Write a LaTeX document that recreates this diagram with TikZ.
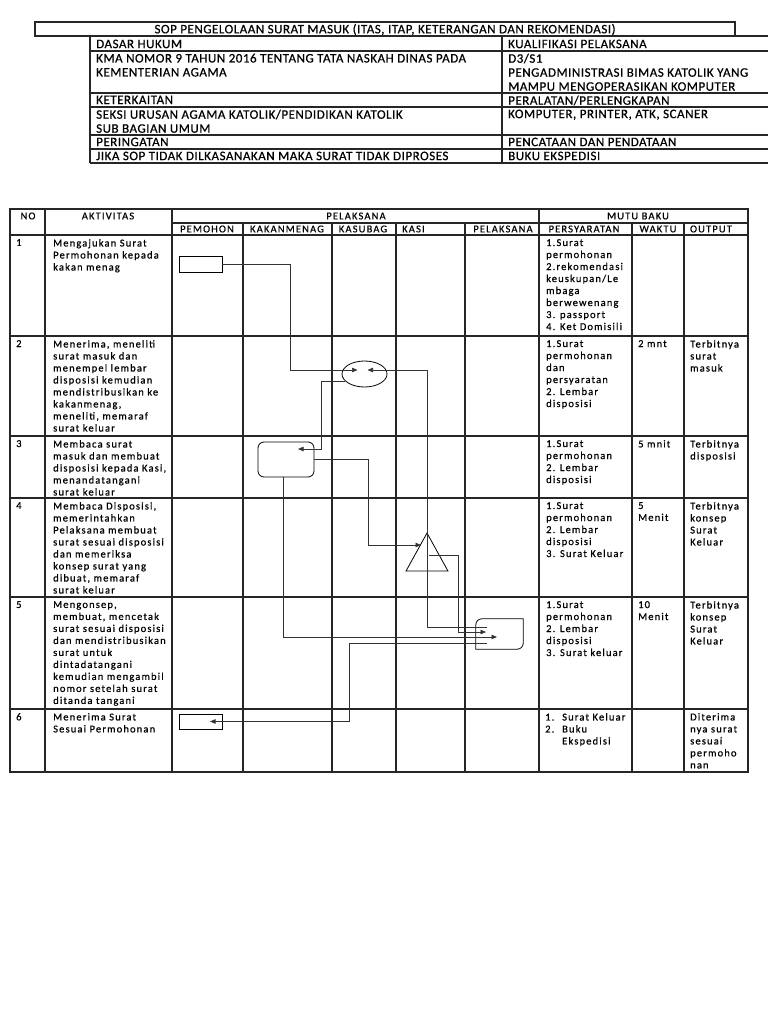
\documentclass[tikz,border=0pt]{standalone}
\usepackage{fontspec}
\setmainfont{Carlito}[LetterSpace=4,FakeBold=0.6]
\newfontfamily\cellfont[LetterSpace=11,FakeBold=0.6]{Carlito}
\usetikzlibrary{positioning,arrows.meta,calc,shapes.geometric}

\begin{document}
\begin{tikzpicture}[
  x=1pt, y=-1pt,
  >={Triangle[length=5.5pt,width=4.5pt]},
  tline/.style   = {line width=1.2pt, black!85},
  flow/.style    = {->, line width=0.7pt, black!80},
  doc/.style     = {draw, line width=0.8pt, inner sep=0pt, minimum width=43pt,
                    minimum height=15pt},
  toptxt/.style  = {font=\fontsize{13}{14}\selectfont, anchor=north west,
                    inner sep=0pt, align=left},
  cell/.style    = {font=\cellfont\fontsize{10.5}{12}\selectfont, anchor=north west,
                    inner sep=0pt, align=left},
  colh/.style    = {font=\cellfont\fontsize{10.5}{12}\selectfont, inner sep=0pt}
]
\useasboundingbox (0,0) rectangle (768,1024);

% ========================= header block ===================================
\draw[tline] (35,22) rectangle (735,36);
\node[font=\fontsize{13}{14}\selectfont, inner sep=0pt] (title) at (385,29.5)
  {SOP PENGELOLAAN SURAT MASUK (ITAS, ITAP, KETERANGAN DAN REKOMENDASI)};
\foreach \y in {36,51,93,107,135,149,163}
  \draw[tline] (90,\y) -- (768,\y);
\draw[tline] (90,36) -- (90,163);
\draw[tline] (502,36) -- (502,163);

\node[toptxt] (dasar)  at (96,39.5)  {DASAR HUKUM};
\node[toptxt] (kma)    at (96,53.5)  {KMA NOMOR 9 TAHUN 2016 TENTANG TATA NASKAH DINAS PADA\\
                                      KEMENTERIAN AGAMA};
\node[toptxt] (kait)   at (96,95.5)  {KETERKAITAN};
\node[toptxt] (seksi)  at (96,109.5) {SEKSI URUSAN AGAMA KATOLIK/PENDIDIKAN KATOLIK\\
                                      SUB BAGIAN UMUM};
\node[toptxt] (ingat)  at (96,137.5) {PERINGATAN};
\node[toptxt] (jika)   at (96,151.5) {JIKA SOP TIDAK DILKASANAKAN MAKA SURAT TIDAK DIPROSES};
\node[toptxt] (kualif) at (508,39.5)  {KUALIFIKASI PELAKSANA};
\node[toptxt] (d3)     at (508,53.5)  {D3/S1\\PENGADMINISTRASI BIMAS KATOLIK YANG\\
                                       MAMPU MENGOPERASIKAN KOMPUTER};
\node[toptxt] (alat)   at (508,95.5)  {PERALATAN/PERLENGKAPAN};
\node[toptxt] (komp)   at (508,109.5) {KOMPUTER, PRINTER, ATK, SCANER};
\node[toptxt] (catat)  at (508,137.5) {PENCATAAN DAN PENDATAAN};
\node[toptxt] (buku)   at (508,151.5) {BUKU EKSPEDISI};

% ========================= main table grid ================================
\draw[tline] (10,209) rectangle (748,772);
\draw[tline] (172,223) -- (748,223);
\foreach \y in {235,336,436,498,597,709}
  \draw[tline] (10,\y) -- (748,\y);
\foreach \x in {45,172,539}
  \draw[tline] (\x,209) -- (\x,772);
\foreach \x in {243,332,396,465,632,684}
  \draw[tline] (\x,223) -- (\x,772);

\node[colh] (hno)   at (28,216)  {NO};
\node[colh] (hakt)  at (108,216) {AKTIVITAS};
\node[colh] (hpel)  at (356,216) {PELAKSANA};
\node[colh] (hmutu) at (638,216) {MUTU BAKU};
\node[colh] (hpem)  at (207,229) {PEMOHON};
\node[colh] (hkak)  at (287,229) {KAKANMENAG};
\node[colh] (hkas)  at (363,229) {KASUBAG};
\node[colh, anchor=west] (hkasi) at (402,229) {KASI};
\node[colh] (hplk)  at (503,229) {PELAKSANA};
\node[colh] (hprs)  at (584,229) {PERSYARATAN};
\node[colh] (hwkt)  at (658,229) {WAKTU};
\node[colh] (hout)  at (711,229) {OUTPUT};

% ========================= rows ===========================================
\node[cell] (no1) at (16,239) {1};
\node[cell] (no2) at (16,340) {2};
\node[cell] (no3) at (16,440) {3};
\node[cell] (no4) at (16,502) {4};
\node[cell] (no5) at (16,601) {5};
\node[cell] (no6) at (16,713) {6};

\node[cell] (akt1) at (53,239) {Mengajukan Surat\\Permohonan kepada\\kakan menag};
\node[cell] (akt2) at (53,340) {Menerima, meneliti\\surat masuk dan\\menempel lembar\\
  disposisi kemudian\\mendistribusikan ke\\kakanmenag,\\meneliti, memaraf\\surat keluar};
\node[cell] (akt3) at (53,440) {Membaca surat\\masuk dan membuat\\disposisi kepada Kasi,\\
  menandatangani\\surat keluar};
\node[cell] (akt4) at (53,502) {Membaca Disposisi,\\memerintahkan\\Pelaksana membuat\\
  surat sesuai disposisi\\dan memeriksa\\konsep surat yang\\dibuat, memaraf\\surat keluar};
\node[cell] (akt5) at (53,601) {Mengonsep,\\membuat, mencetak\\surat sesuai disposisi\\
  dan mendistribusikan\\surat untuk\\dintadatangani\\kemudian mengambil\\
  nomor setelah surat\\ditanda tangani};
\node[cell] (akt6) at (53,713) {Menerima Surat\\Sesuai Permohonan};

\node[cell] (prs1) at (546,239) {1.Surat\\permohonan\\2.rekomendasi\\keuskupan/Le\\mbaga\\
  berwewenang\\3. passport\\4. Ket Domisili};
\node[cell] (prs2) at (546,340) {1.Surat\\permohonan\\dan\\persyaratan\\2. Lembar\\disposisi};
\node[cell] (prs3) at (546,440) {1.Surat\\permohonan\\2. Lembar\\disposisi};
\node[cell] (prs4) at (546,502) {1.Surat\\permohonan\\2. Lembar\\disposisi\\3. Surat Keluar};
\node[cell] (prs5) at (546,601) {1.Surat\\permohonan\\2. Lembar\\disposisi\\3. Surat keluar};
\node[cell] (prs6) at (545,713) {\makebox[17pt][l]{1.}Surat Keluar\\
  \makebox[17pt][l]{2.}Buku\\\hspace*{17pt}Ekspedisi};

\node[cell] (wkt2) at (638,340) {2 mnt};
\node[cell] (wkt3) at (638,440) {5 mnit};
\node[cell] (wkt4) at (638,502) {5\\Menit};
\node[cell] (wkt5) at (638,601) {10\\Menit};

\node[cell] (out2) at (690,340) {Terbitnya\\surat\\masuk};
\node[cell] (out3) at (690,440) {Terbitnya\\disposisi};
\node[cell] (out4) at (690,502) {Terbitnya\\konsep\\Surat\\Keluar};
\node[cell] (out5) at (690,601) {Terbitnya\\konsep\\Surat\\Keluar};
\node[cell] (out6) at (690,713) {Diterima\\nya surat\\sesuai\\permoho\\nan};

% ========================= flow symbols ===================================
\node[doc, minimum height=16pt] (req) at (200.5,264) {};
\node[draw, ellipse, line width=0.8pt, inner sep=0pt, minimum width=45pt,
      minimum height=26pt] (agenda) at (364.5,374) {};
\node[draw, rounded corners=6pt, line width=0.8pt, inner sep=0pt, minimum width=56pt,
      minimum height=35pt] (kakan) at (286,459.5) {};
\node[draw, isosceles triangle, isosceles triangle stretches, shape border rotate=90,
      line width=0.8pt, inner sep=0pt, minimum width=42pt, minimum height=38pt,
      anchor=apex] (tri) at (427,532) {};
\node[inner sep=0pt, minimum width=47pt, minimum height=30pt] (pel) at (499.5,634) {};
% only the top-left and bottom-right corners are rounded
\draw[line width=0.8pt] (pel.west) [rounded corners=6pt] -- (pel.north west) -- (pel.north)
  [sharp corners] -- (pel.north east) -- (pel.east) [rounded corners=6pt]
  -- (pel.south east) -- (pel.south) [sharp corners] -- (pel.south west) -- cycle;
\node[doc] (recv) at (200.5,721.5) {};

% ========================= connectors =====================================
\draw[flow] (req.east) -- ++(68,0) |- ($(agenda.center)+(-7,-4)$);
\draw[flow] ($(pel.center)+(-12.5,-7)$) -- ++(-60,0) |- ($(agenda.center)+(3,-4)$);
\draw[flow] (agenda.200) -- ++(-23.5,0) |- ($(kakan.center)+(12,-10.5)$);
\draw[flow] (kakan.east) -- ++(54,0) |- ($(tri.apex)+(-6,13)$);
\draw[flow] ($(tri.apex)+(2,23)$) -- ++(29,0) |- ($(pel.center)+(-13.5,-2)$);
\draw[flow] ($(kakan.south)+(-3,0)$) |- ($(pel.center)+(-2.5,3)$);
\draw[flow] ($(pel.center)+(-12.5,9)$) -- ++(-138,0) |- ($(recv.center)+(9.5,0)$);

\end{tikzpicture}
\end{document}
